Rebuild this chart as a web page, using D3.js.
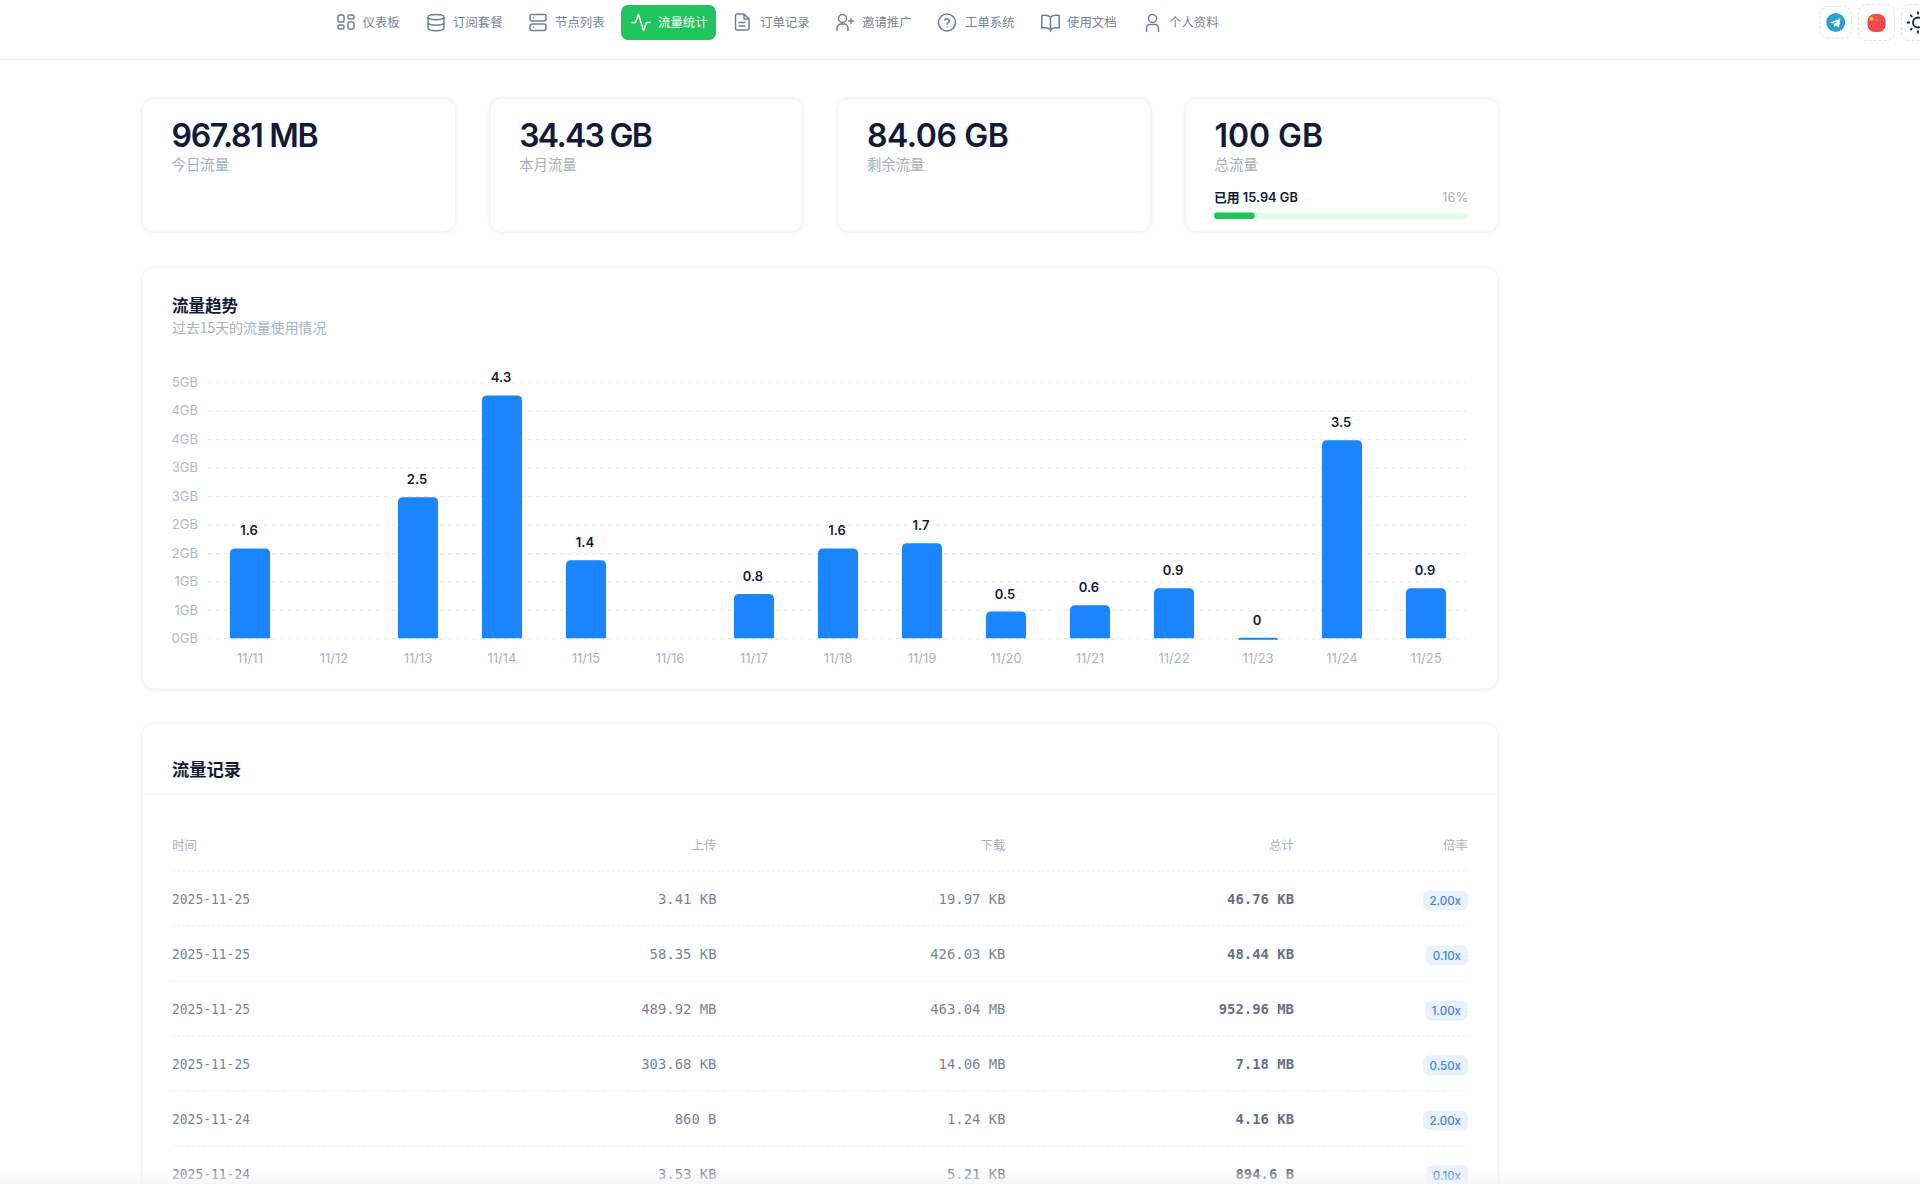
<!DOCTYPE html>
<html>
<head>
<meta charset="utf-8">
<style>
    html, body { margin: 0; padding: 0; background: #fff; overflow: hidden; }
    svg { display: block; }
    text { font-family: Inter, "Noto Sans CJK SC", sans-serif; }
    .card { fill: #fff; stroke: #f1f2f4; stroke-width: 1; filter: drop-shadow(0 1px 2px rgba(20,30,60,.05)); }
    .cjk { font-family: "Noto Sans CJK SC", Inter, sans-serif; }
    .mono { font-family: "DejaVu Sans Mono", monospace; }
    .grid line { stroke: #e6e8ec; stroke-dasharray: 4 4; }
    .nav_icon { fill: none; stroke: #737c94; stroke-width: 1.5; stroke-linecap: round; stroke-linejoin: round; }
</style>
</head>
<body>
<div id="plateau"></div>
<script src="https://cdn.jsdelivr.net/npm/d3@7"></script>
<script>

//////////////////// data ////////////////////
let navLabels = ['仪表板', '订阅套餐', '节点列表', '流量统计', '订单记录', '邀请推广', '工单系统', '使用文档', '个人资料'];
let statValues = ['967.81 MB', '34.43 GB', '84.06 GB', '100 GB'];
let statLabels = ['今日流量', '本月流量', '剩余流量', '总流量'];
let usedPercent = 16;

let days = ['11/11', '11/12', '11/13', '11/14', '11/15', '11/16', '11/17', '11/18', '11/19', '11/20', '11/21', '11/22', '11/23', '11/24', '11/25'];
let dayTraffic = [1.58, null, 2.48, 4.27, 1.37, null, 0.78, 1.58, 1.67, 0.47, 0.58, 0.88, 0.01, 3.48, 0.88];
let gbTicks = [0, 0.5, 1, 1.5, 2, 2.5, 3, 3.5, 4, 4.5];

let tableHeads = ['时间', '上传', '下载', '总计', '倍率'];
let rowDates = ['2025-11-25', '2025-11-25', '2025-11-25', '2025-11-25', '2025-11-24', '2025-11-24'];
let rowUploads = ['3.41 KB', '58.35 KB', '489.92 MB', '303.68 KB', '860 B', '3.53 KB'];
let rowDownloads = ['19.97 KB', '426.03 KB', '463.04 MB', '14.06 MB', '1.24 KB', '5.21 KB'];
let rowTotals = ['46.76 KB', '48.44 KB', '952.96 MB', '7.18 MB', '4.16 KB', '894.6 B'];
let rowRates = ['2.00x', '0.10x', '1.00x', '0.50x', '2.00x', '0.10x'];

//////////////////// layout ////////////////////
let W = 1920, H = 1184;
let DARK = '#111a38', GREY = '#a9afbd', BODY = '#7b8398';

let svg = d3.select('#plateau').append('svg')
    .attr('width', W)
    .attr('height', H);

function txt(parent, x, y, str, size, color, anchor, weight, cls) {
    return parent.append('text')
        .attr('x', x)
        .attr('y', y)
        .attr('font-size', size)
        .attr('fill', color)
        .attr('text-anchor', anchor || 'start')
        .attr('font-weight', weight || 400)
        .attr('class', cls || null)
        .text(str);
}

//////////////////// nav ////////////////////
let navIconX = [337, 427, 529, 632, 735, 836, 938, 1041, 1145];
let navTextX = [362.5, 453, 555, 658, 760, 862, 965, 1067, 1169];
let navIcons = [
    'M1 3a1.5 1.5 0 0 1 1.5-1.5h3A1.5 1.5 0 0 1 7 3v4a1.5 1.5 0 0 1-1.5 1.5h-3A1.5 1.5 0 0 1 1 7z M11 3a1.5 1.5 0 0 1 1.5-1.5h3A1.5 1.5 0 0 1 17 3v1a1.5 1.5 0 0 1-1.5 1.5h-3A1.5 1.5 0 0 1 11 4z M11 10a1.5 1.5 0 0 1 1.5-1.5h3A1.5 1.5 0 0 1 17 10v4a1.5 1.5 0 0 1-1.5 1.5h-3A1.5 1.5 0 0 1 11 14z M1 13a1.5 1.5 0 0 1 1.5-1.5h3A1.5 1.5 0 0 1 7 13v1a1.5 1.5 0 0 1-1.5 1.5h-3A1.5 1.5 0 0 1 1 14z',
    'M1 3.5C1 0 17 0 17 3.5V14.5C17 18 1 18 1 14.5z M1 3.5C1 7 17 7 17 3.5 M1 9C1 12.5 17 12.5 17 9',
    'M3 1h12a2 2 0 0 1 2 2v2.5a2 2 0 0 1-2 2H3a2 2 0 0 1-2-2V3a2 2 0 0 1 2-2z M3 10.5h12a2 2 0 0 1 2 2V15a2 2 0 0 1-2 2H3a2 2 0 0 1-2-2v-2.5a2 2 0 0 1 2-2z M4.5 4.2h.01 M4.5 13.7h.01',
    'M0 9h3.5L6.5 1l5 16 3-8H18',
    'M2 .5h7l5 5V15a1.5 1.5 0 0 1-1.5 1.5H2A1.5 1.5 0 0 1 .5 15V2A1.5 1.5 0 0 1 2 .5z M9 .5v5h5 M4 9h6 M4 12.5h6',
    'M6.5 1a4 4 0 1 1 0 8a4 4 0 0 1 0-8z M1 17v-2.5a4 4 0 0 1 4-4h3a4 4 0 0 1 4 4V17 M15 5v5 M12.5 7.5h5',
    'M9 .5a8.5 8.5 0 1 1 0 17a8.5 8.5 0 0 1 0-17z M6.7 6.6a2.4 2.4 0 0 1 4.6.8c0 1.6-2.3 2-2.3 3.4 M9 13.6h.01',
    'M9.5 3.5C7.5 1.8 3.5 1.5 .8 2V14.5c2.7-.5 6.7-.2 8.7 1.5c2-1.7 6-2 8.7-1.5V2C15.5 1.5 11.5 1.8 9.5 3.5z M9.5 3.5V18',
    'M7.5 1a4 4 0 1 1 0 8a4 4 0 0 1 0-8z M1.5 18v-3.5a3.5 3.5 0 0 1 3.5-3.5h5a3.5 3.5 0 0 1 3.5 3.5V18'
];

let nav = svg.append('g').attr('id', 'nav');
nav.append('rect')
    .attr('x', 0).attr('y', 59)
    .attr('width', W).attr('height', 1)
    .attr('fill', '#f0f1f3');
nav.append('rect')
    .attr('x', 621).attr('y', 5)
    .attr('width', 95).attr('height', 35)
    .attr('rx', 7)
    .attr('fill', '#1fc45c');

navLabels.forEach((label, idx) => {
    let active = idx == 3;
    nav.append('path')
        .classed('nav_icon', true)
        .attr('transform', `translate(${navIconX[idx]}, 13.5)`)
        .style('stroke', active ? '#fff' : null)
        .attr('d', navIcons[idx]);
    txt(nav, navTextX[idx], 27, label, 12.4, active ? '#fff' : '#7b8398', 'start', 400, 'cjk');
});

// boutons a droite
[[1820, 6.5, 31.5, 31.5], [1858.5, 4.5, 36, 36], [1901.5, 4.5, 36, 36]].forEach(b => {
    nav.append('rect')
        .attr('x', b[0]).attr('y', b[1])
        .attr('width', b[2]).attr('height', b[3])
        .attr('rx', 8)
        .attr('fill', '#fff')
        .attr('stroke', '#dfe2e8')
        .attr('stroke-dasharray', '3 2');
});
nav.append('circle').attr('cx', 1835.7).attr('cy', 22.5).attr('r', 9.5).attr('fill', '#2f9fd0');
nav.append('path').attr('fill', '#fff').attr('d', 'M1830.5 22.5l10-4.2l-1.6 9.2l-3-2.2l-1.7 1.8l-.2-2.9l4.2-4l-5.3 3.3z');
nav.append('rect').attr('x', 1867.5).attr('y', 14).attr('width', 18).attr('height', 18).attr('rx', 7).attr('fill', '#f4474f');
nav.append('circle').attr('cx', 1871.5).attr('cy', 19).attr('r', 1.9).attr('fill', '#ffd23a');
nav.append('circle').attr('cx', 1876).attr('cy', 16.5).attr('r', .7).attr('fill', '#ffd23a');
nav.append('circle').attr('cx', 1877).attr('cy', 20.5).attr('r', .7).attr('fill', '#ffd23a');
nav.append('circle').attr('cx', 1918).attr('cy', 22.5).attr('r', 5).attr('fill', 'none').attr('stroke', '#1c2238').attr('stroke-width', 1.8);
nav.append('path').attr('stroke', '#1c2238').attr('stroke-width', 1.8)
    .attr('d', 'M1910 22.5h-3 M1918 14.5v-3 M1918 33.5v-3 M1912.3 16.8l-2-2 M1912.3 28.2l-2 2');

//////////////////// stat cards ////////////////////
let statTracking = [-1.3, -1.7, -0.4, -0.1];
let cardX = d3.scaleLinear().domain([0, 1]).range([142, 142 + 347.7]);

statValues.forEach((value, idx) => {
    let x = cardX(idx);
    svg.append('rect')
        .classed('card', true)
        .attr('x', x).attr('y', 98)
        .attr('width', 313.5).attr('height', 134)
        .attr('rx', 12);
    txt(svg, x + 29.5, 146.5, value, 32, DARK, 'start', 600).attr('letter-spacing', statTracking[idx]);
    txt(svg, x + 29.5, 170, statLabels[idx], 14.4, GREY, 'start', 400, 'cjk');
});

let usedX = d3.scaleLinear().domain([0, 100]).range([1214, 1468]);
txt(svg, 1214, 202, '已用 15.94 GB', 12.8, DARK, 'start', 600);
txt(svg, 1468, 202, usedPercent + '%', 12.8, GREY, 'end');
svg.append('rect')
    .attr('x', usedX(0)).attr('y', 212.5)
    .attr('width', usedX(100) - usedX(0)).attr('height', 6.5)
    .attr('rx', 3)
    .attr('fill', '#e3fbe8');
svg.append('rect')
    .attr('x', usedX(0)).attr('y', 212.5)
    .attr('width', usedX(usedPercent) - usedX(0)).attr('height', 6.5)
    .attr('rx', 3)
    .attr('fill', '#1fc45c');

//////////////////// trend chart ////////////////////
svg.append('rect')
    .classed('card', true)
    .attr('x', 142).attr('y', 267)
    .attr('width', 1356).attr('height', 422)
    .attr('rx', 12);
txt(svg, 172, 311.5, '流量趋势', 16.5, DARK, 'start', 600, 'cjk');
txt(svg, 172, 333, '过去15天的流量使用情况', 13.9, GREY, 'start', 400, 'cjk');

let x = d3.scaleBand().domain(days).range([208, 1468]).paddingInner(44 / 84).paddingOuter(22 / 84);
let y = d3.scaleLinear().domain([0, 4.5]).range([638.3, 382.3]);

let gridAxis = d3.axisLeft(y)
    .tickValues(gbTicks)
    .tickSize(-1258)
    .tickFormat('');
svg.append('g')
    .attr('class', 'grid')
    .attr('transform', 'translate(208, 0)')
    .call(gridAxis)
    .call(g => g.select('.domain').remove());

let yAxis = d3.axisLeft(y)
    .tickValues(gbTicks)
    .tickSize(0)
    .tickPadding(10)
    .tickFormat(v => Math.round(v) + 'GB');
svg.append('g')
    .attr('transform', 'translate(208, 0)')
    .call(yAxis)
    .call(g => g.select('.domain').remove())
    .call(g => g.selectAll('text').attr('font-size', 13).attr('fill', '#b3b8c5').attr('font-family', null));

let xAxis = d3.axisBottom(x)
    .tickSize(0)
    .tickPadding(15);
svg.append('g')
    .attr('transform', 'translate(0, 638.3)')
    .call(xAxis)
    .call(g => g.select('.domain').remove())
    .call(g => g.selectAll('text').attr('font-size', 13).attr('fill', '#adb2c0').attr('font-family', null));

function barPath(d, idx) {
    let left = x(days[idx]), w = x.bandwidth();
    let top = y(d), base = y(0);
    // les tres petites barres debordent un peu sous l'axe
    if (base - top < 2) base += 1.5;
    let r = Math.min(5, base - top);
    return `M${left} ${base}V${top + r}Q${left} ${top} ${left + r} ${top}H${left + w - r}Q${left + w} ${top} ${left + w} ${top + r}V${base}Z`;
}

let barData = dayTraffic.map((d, idx) => ({ d: d, idx: idx })).filter(o => o.d != null);

svg.append('g').selectAll('path')
    .data(barData)
    .join('path')
    .attr('fill', '#1a85ff')
    .attr('d', o => barPath(o.d, o.idx));

svg.append('g').selectAll('text')
    .data(barData)
    .join('text')
    .attr('x', o => x(days[o.idx]) + x.bandwidth() / 2 - 1)
    .attr('y', o => y(o.d) - 13)
    .attr('text-anchor', 'middle')
    .attr('font-size', 13)
    .attr('font-weight', 600)
    .attr('fill', DARK)
    .text(o => +o.d.toFixed(1));

//////////////////// table ////////////////////
svg.append('rect')
    .classed('card', true)
    .attr('x', 142).attr('y', 723)
    .attr('width', 1356).attr('height', 520)
    .attr('rx', 12);
txt(svg, 172, 775.5, '流量记录', 17.3, DARK, 'start', 600, 'cjk');
svg.append('rect')
    .attr('x', 142).attr('y', 793)
    .attr('width', 1356).attr('height', 1)
    .attr('fill', '#f1f2f4');

let colRight = [172, 716.5, 1005.5, 1294, 1468];
tableHeads.forEach((head, idx) => {
    txt(svg, colRight[idx], 850, head, 12.5, GREY, idx == 0 ? 'start' : 'end', 400, 'cjk');
});

let rowY = d3.scaleLinear().domain([0, 1]).range([871, 926]);

rowDates.forEach((date, idx) => {
    let top = rowY(idx);
    svg.append('line')
        .attr('x1', 172).attr('x2', 1468)
        .attr('y1', top).attr('y2', top)
        .attr('stroke', '#eceef1')
        .attr('stroke-dasharray', '3 2');
    let base = top + 33;
    txt(svg, colRight[0], base, date, 14.5, BODY, 'start', 400, 'mono')
        .attr('textLength', 78)
        .attr('lengthAdjust', 'spacingAndGlyphs');
    txt(svg, colRight[1], base, rowUploads[idx], 13.9, BODY, 'end', 400, 'mono');
    txt(svg, colRight[2], base, rowDownloads[idx], 13.9, BODY, 'end', 400, 'mono');
    txt(svg, colRight[3], base, rowTotals[idx], 13.9, '#667089', 'end', 700, 'mono');

    let rect = svg.append('rect')
        .attr('y', top + 19.5)
        .attr('height', 20)
        .attr('rx', 6)
        .attr('fill', '#e8f2ff');
    let label = txt(svg, 1461, top + 34, rowRates[idx], 11.5, '#3f85e0', 'end', 500);
    let w = label.node().getComputedTextLength() + 13.5;
    rect.attr('x', 1468 - w).attr('width', w);
});

//////////////////// fade bas de page ////////////////////
let fade = svg.append('defs').append('linearGradient')
    .attr('id', 'fade')
    .attr('x1', 0).attr('y1', 0).attr('x2', 0).attr('y2', 1);
fade.append('stop').attr('offset', 0).attr('stop-color', '#f4f4f5').attr('stop-opacity', 0);
fade.append('stop').attr('offset', 1).attr('stop-color', '#f4f4f5').attr('stop-opacity', .8);
svg.append('rect')
    .attr('x', 0).attr('y', 1170)
    .attr('width', W).attr('height', 14)
    .attr('fill', 'url(#fade)');

</script>
</body>
</html>
